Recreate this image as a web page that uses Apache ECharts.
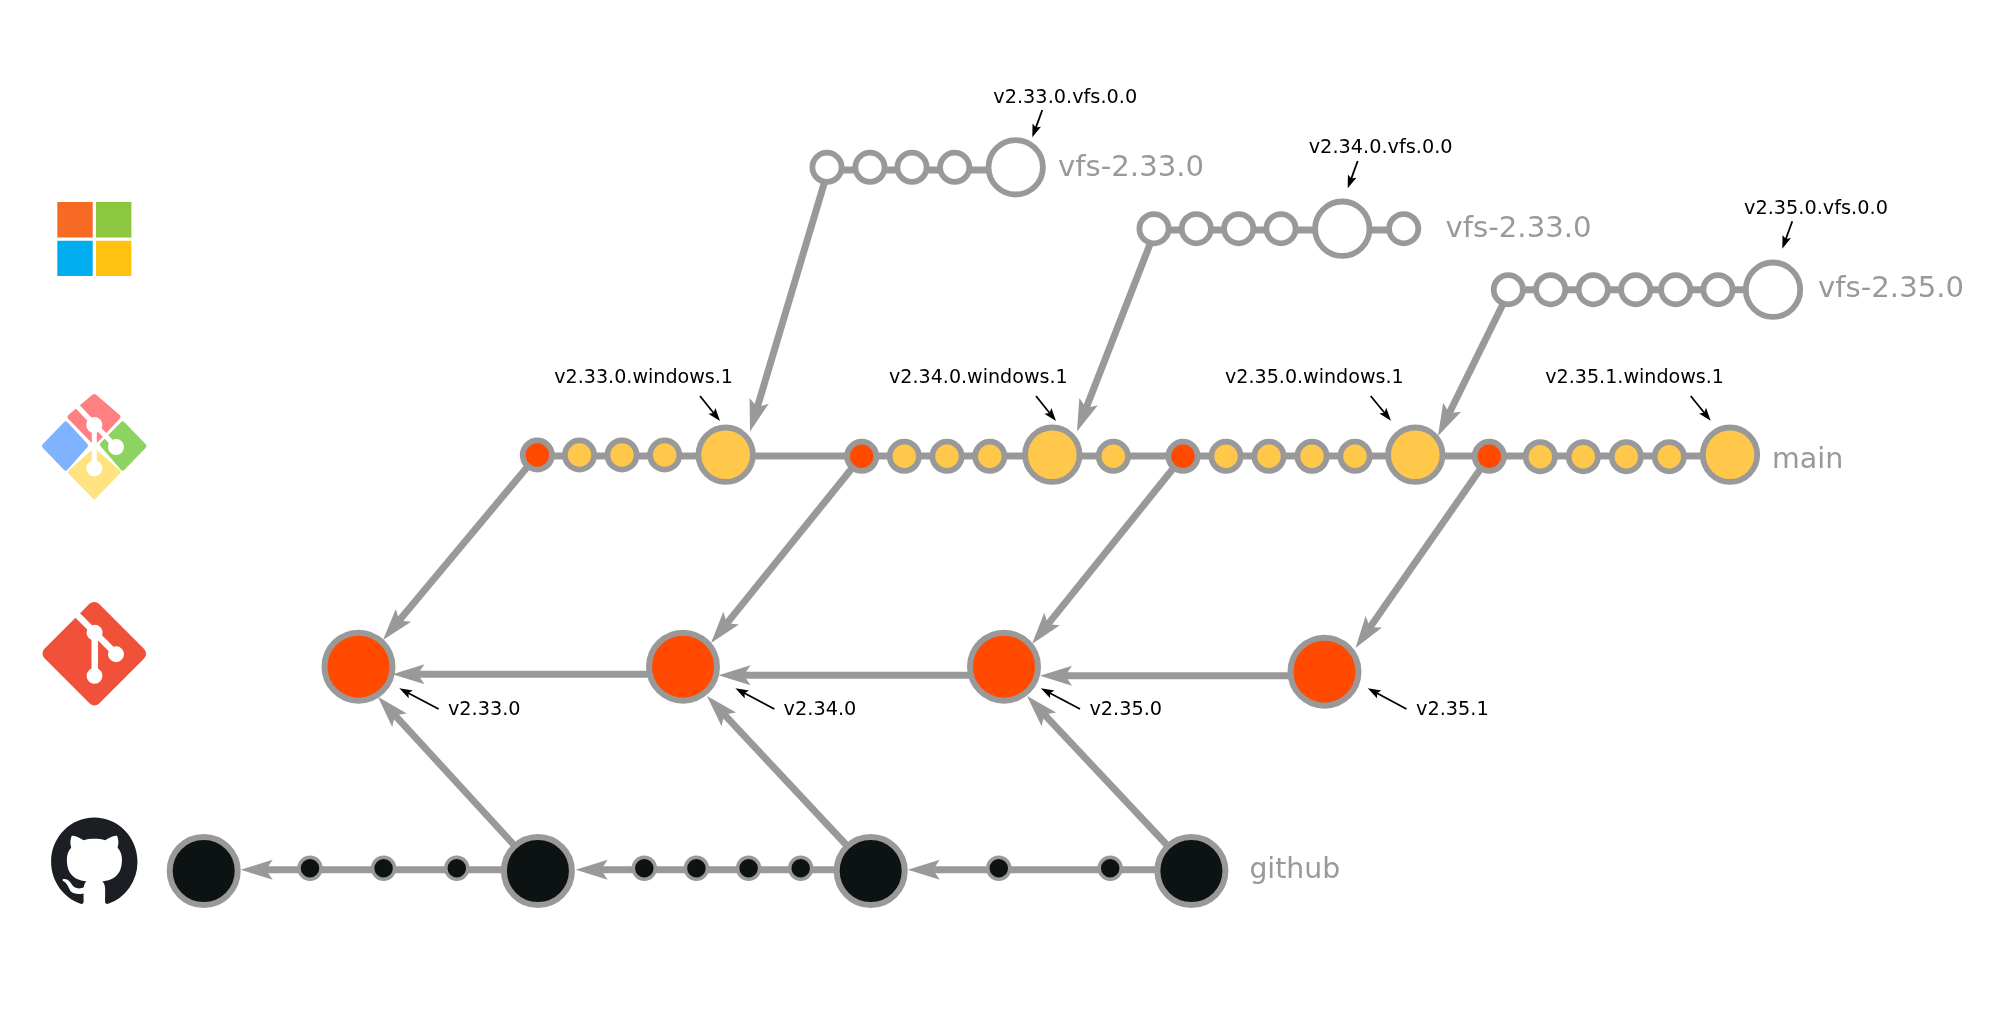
<!DOCTYPE html>
<html>
<head>
<meta charset="utf-8">
<title>Git release flow</title>
<script src="https://cdn.jsdelivr.net/npm/echarts@6/dist/echarts.min.js"></script>
<style>
html, body { margin: 0; padding: 0; background: #fff; }
#main { width: 2000px; height: 1020px; }
</style>
</head>
<body>
<div id="main"></div>
<script>
// commits, as [x, y] on the diagram's 2000 x 1020 plane
var vfsTags = [[1015.7, 167.3], [1342.3, 228.7], [1773, 289.7]];
var vfsCommits = [
  [827, 167.3], [870, 167.3], [912, 167.3], [954.7, 167.3],
  [1154, 228.7], [1196.3, 228.7], [1238.7, 228.7], [1281, 228.7], [1403.7, 228.7],
  [1508.3, 289.7], [1550.7, 289.7], [1593.3, 289.7], [1635.7, 289.7], [1675.7, 289.7], [1718, 289.7]
];
var mainTags = [[725.7, 454.7], [1052.3, 454.7], [1415.3, 454.7], [1730, 454.7]];
var mainCommits = [
  [579.5, 455], [622, 455], [664.7, 455],
  [904.3, 456.3], [947, 456.3], [989.8, 456.3], [1113.3, 456.3],
  [1226, 456.3], [1269, 456.3], [1312, 456.3], [1355, 456.3],
  [1540.3, 456.7], [1583.3, 456.7], [1626.3, 456.7], [1669.3, 456.7]
];
var mainMerges = [[537.3, 455], [861.7, 456.3], [1183, 456.3], [1489.3, 456.3]];
var gitTags = [[358.5, 666.7], [683, 666.7], [1004, 666.7], [1324.5, 671.7]];
var githubTags = [[203.7, 871], [537.9, 871], [870.7, 871], [1191.4, 871]];
var githubCommits = [
  [310, 868.3], [383.6, 868.3], [456.8, 868.3],
  [644.3, 868.3], [696.4, 868.3], [748.6, 868.3], [800.7, 868.3],
  [998.8, 868.3], [1110.2, 868.3]
];

// edges, as [x0, y0, x1, y1]
var branchLines = [
  [827, 170, 1015.7, 170],
  [1154, 230, 1403.7, 230],
  [1508.3, 289.7, 1773, 289.7],
  [537.3, 456, 1730, 456]
];
var flowArrows = [
  [829, 167.3, 750, 431.5],
  [1156, 228.7, 1077, 431.5],
  [1510, 289.7, 1438, 436],
  [537.3, 455, 383, 640],
  [861.7, 456.3, 711, 643],
  [1183, 456.3, 1032, 644],
  [1489.3, 456.3, 1355.5, 648],
  [682.5, 674.3, 392.5, 674.3],
  [1003.7, 675.3, 718.5, 675.3],
  [1324, 675.7, 1040, 675.7],
  [537.9, 871, 377.9, 696.7],
  [870.7, 871, 707, 696],
  [1191.4, 871, 1027, 696],
  [537.9, 869.7, 240.7, 869.7],
  [870.7, 869.7, 575.7, 869.7],
  [1191.4, 869.7, 907.8, 869.7]
];
var calloutArrows = [
  [1042.3, 110, 1032.3, 137.3],
  [1357.7, 161, 1347.7, 188.3],
  [1792.3, 221.3, 1782.3, 248.7],
  [700, 396, 720, 421],
  [1036, 396, 1056, 421],
  [1370.7, 396, 1391, 420.7],
  [1690.7, 396, 1710.7, 420.7],
  [438.6, 709, 399.3, 688.3],
  [774.3, 709, 735.4, 688.3],
  [1080, 709, 1040.8, 688.3],
  [1406.5, 709, 1367.8, 688.3]
];

// texts, as [x, y, text]
var vfsTagLabels = [
  [993.3, 97.5, 'v2.33.0.vfs.0.0'],
  [1308.7, 148, 'v2.34.0.vfs.0.0'],
  [1744, 208.5, 'v2.35.0.vfs.0.0']
];
var windowsTagLabels = [
  [554.3, 378.5, 'v2.33.0.windows.1'],
  [889, 378.5, 'v2.34.0.windows.1'],
  [1225, 378.5, 'v2.35.0.windows.1'],
  [1545.3, 378.5, 'v2.35.1.windows.1']
];
var gitTagLabels = [
  [447.9, 709.5, 'v2.33.0'],
  [783.6, 709.5, 'v2.34.0'],
  [1089.4, 709.5, 'v2.35.0'],
  [1416, 709.5, 'v2.35.1']
];
var vfsBranchLabels = [
  [1058, 168.5, 'vfs-2.33.0'],
  [1445.5, 229.5, 'vfs-2.33.0'],
  [1818, 289.5, 'vfs-2.35.0']
];
var mainBranchLabel = [[1772, 461, 'main']];
var githubBranchLabel = [[1249.4, 871, 'github']];

var GRAY = '#999999';
var FONT = '"DejaVu Sans", sans-serif';

var myChart = echarts.init(document.getElementById('main'));

function nodeSeries(name, data, size, fill, border) {
  return {
    name: name,
    type: 'scatter',
    data: data,
    symbol: 'circle',
    symbolSize: size,
    z: 5,
    silent: true,
    itemStyle: { color: fill, borderColor: GRAY, borderWidth: border, opacity: 1 }
  };
}

// straight edge with an optional swept arrow head at its far end
function edgeSeries(name, data, width, color, headLen, headHalf, notch, z) {
  return {
    name: name,
    type: 'custom',
    data: data,
    z: z,
    silent: true,
    clip: false,
    encode: { x: [0, 2], y: [1, 3] },
    renderItem: function (params, api) {
      var a = api.coord([api.value(0), api.value(1)]);
      var b = api.coord([api.value(2), api.value(3)]);
      var dx = b[0] - a[0], dy = b[1] - a[1];
      var len = Math.sqrt(dx * dx + dy * dy);
      var ux = dx / len, uy = dy / len;
      var end = [b[0] - ux * notch, b[1] - uy * notch];
      var children = [{
        type: 'line',
        shape: { x1: a[0], y1: a[1], x2: end[0], y2: end[1] },
        style: { stroke: color, lineWidth: width, fill: null }
      }];
      if (headLen > 0) {
        var bx = b[0] - ux * headLen, by = b[1] - uy * headLen;
        children.push({
          type: 'polygon',
          shape: { points: [
            b,
            [bx - uy * headHalf, by + ux * headHalf],
            [b[0] - ux * notch * 1.15, b[1] - uy * notch * 1.15],
            [bx + uy * headHalf, by - ux * headHalf]
          ] },
          style: { fill: color }
        });
      }
      return { type: 'group', children: children };
    }
  };
}

function textSeries(name, data, size, color) {
  return {
    name: name,
    type: 'custom',
    data: data,
    z: 6,
    silent: true,
    clip: false,
    encode: { x: 0, y: 1 },
    renderItem: function (params, api) {
      var p = api.coord([api.value(0), api.value(1)]);
      return {
        type: 'text',
        style: {
          text: data[params.dataIndex][2],
          x: p[0], y: p[1],
          fill: color,
          font: size + 'px ' + FONT,
          align: 'left',
          verticalAlign: 'middle'
        }
      };
    }
  };
}

// logos on the left
var gitMark = 'M90.156 41.965 50.036 1.848a5.918 5.918 0 0 0-8.372 0l-8.328 8.332 10.566 10.566a7.03 7.03 0 0 1 7.23 1.684 7.034 7.034 0 0 1 1.669 7.277l10.187 10.184a7.028 7.028 0 0 1 7.278 1.672 7.04 7.04 0 0 1 0 9.957 7.05 7.05 0 0 1-9.965 0 7.044 7.044 0 0 1-1.528-7.66l-9.5-9.497V59.36a7.04 7.04 0 0 1 1.86 11.29 7.04 7.04 0 0 1-9.957 0 7.04 7.04 0 0 1 0-9.958 7.06 7.06 0 0 1 2.304-1.539V33.926a7.049 7.049 0 0 1-3.82-9.234L29.242 14.272 1.73 41.777a5.925 5.925 0 0 0 0 8.371L41.852 90.27a5.925 5.925 0 0 0 8.37 0l39.934-39.934a5.925 5.925 0 0 0 0-8.371';
var octocat = 'M8 0C3.58 0 0 3.58 0 8c0 3.54 2.29 6.53 5.47 7.59.4.07.55-.17.55-.38 0-.19-.01-.82-.01-1.49-2.01.37-2.53-.49-2.69-.94-.09-.23-.48-.94-.82-1.13-.28-.15-.68-.52-.01-.53.63-.01 1.08.58 1.23.82.72 1.21 1.87.87 2.33.66.07-.52.28-.87.51-1.07-1.78-.2-3.64-.89-3.64-3.95 0-.87.31-1.59.82-2.15-.08-.2-.36-1.02.08-2.12 0 0 .67-.21 2.2.82.64-.18 1.32-.27 2-.27.68 0 1.36.09 2 .27 1.53-1.04 2.2-.82 2.2-.82.44 1.1.16 1.92.08 2.12.51.56.82 1.27.82 2.15 0 3.07-1.87 3.75-3.65 3.95.29.25.54.73.54 1.48 0 1.07-.01 1.93-.01 2.2 0 .21.15.46.55.38A8.013 8.013 0 0 0 16 8c0-4.42-3.58-8-8-8z';

function square(x, y, color) {
  return { type: 'rect', shape: { x: x, y: y, width: 35.4, height: 35.4 }, style: { fill: color } };
}
function facet(points, color) {
  return {
    type: 'polygon',
    shape: { points: points },
    style: { fill: color, stroke: color, lineWidth: 5, lineJoin: 'round' }
  };
}
function whiteLine(x1, y1, x2, y2) {
  return { type: 'line', shape: { x1: x1, y1: y1, x2: x2, y2: y2 }, style: { stroke: '#fff', lineWidth: 5 } };
}
function whiteDot(x, y) {
  return { type: 'circle', shape: { cx: x, cy: y, r: 8 }, style: { fill: '#fff' } };
}
function pathLogo(pathData, x, y, size, color) {
  return {
    type: 'path',
    shape: { pathData: pathData, x: x, y: y, width: size, height: size, layout: 'cover' },
    style: { fill: color }
  };
}

var logos = [
  square(57.3, 202, '#F76A23'),
  square(96, 202, '#8DC63F'),
  square(57.3, 240.7, '#00AEEF'),
  square(96, 240.7, '#FFC20E'),
  facet([[94.3, 396.5], [118, 417], [94.3, 442], [70, 417]], '#FF8080'),
  facet([[44.5, 446], [65.7, 424], [85.5, 445.5], [65.7, 468]], '#80B3FF'),
  facet([[144, 446], [122.7, 424], [102.5, 444.5], [122.7, 468]], '#8DD35F'),
  facet([[94.3, 496.5], [70.5, 472], [94.3, 451], [118, 472]], '#FFE380'),
  whiteLine(76, 405, 116, 447),
  whiteLine(94.3, 425, 94.3, 468.3),
  whiteDot(94.3, 425),
  whiteDot(116, 447),
  whiteDot(94.3, 468.3)
];

var option = {
  animation: false,
  backgroundColor: '#fff',
  grid: { left: 0, right: 0, top: 0, bottom: 0 },
  xAxis: { type: 'value', min: 0, max: 2000, show: false },
  yAxis: { type: 'value', min: 0, max: 1020, inverse: true, show: false },
  series: [
    {
      name: 'logos',
      type: 'custom',
      data: [[0, 0]],
      silent: true,
      clip: false,
      z: 1,
      renderItem: function () {
        return {
          type: 'group',
          children: logos.concat([
            pathLogo(gitMark, 42.5, 601.9, 103.6, '#F05138'),
            pathLogo(octocat, 51.1, 817.5, 86.4, '#1B1F23')
          ])
        };
      }
    },
    edgeSeries('branches', branchLines, 7, GRAY, 0, 0, 0, 2),
    edgeSeries('flow', flowArrows, 7, GRAY, 32, 10, 22, 2),
    edgeSeries('callouts', calloutArrows, 1.8, '#000', 13, 4.5, 9, 3),
    nodeSeries('vfs tags', vfsTags, 54.4, '#fff', 5.8),
    nodeSeries('vfs commits', vfsCommits, 29.2, '#fff', 5.8),
    nodeSeries('main tags', mainTags, 54.4, '#FFC84A', 5.8),
    nodeSeries('main commits', mainCommits, 29.2, '#FFC84A', 5.8),
    nodeSeries('main merges', mainMerges, 29.2, '#FF4A00', 5.8),
    nodeSeries('git tags', gitTags, 68, '#FF4A00', 6),
    nodeSeries('github tags', githubTags, 68, '#0D1312', 6),
    nodeSeries('github commits', githubCommits, 22, '#0D1312', 3.5),
    textSeries('vfs tag labels', vfsTagLabels, 19.3, '#000'),
    textSeries('windows tag labels', windowsTagLabels, 19.1, '#000'),
    textSeries('git tag labels', gitTagLabels, 19.3, '#000'),
    textSeries('vfs branch labels', vfsBranchLabels, 29.2, GRAY),
    textSeries('main branch label', mainBranchLabel, 28.5, GRAY),
    textSeries('github branch label', githubBranchLabel, 28.3, GRAY)
  ]
};
myChart.setOption(option);
</script>
</body>
</html>
